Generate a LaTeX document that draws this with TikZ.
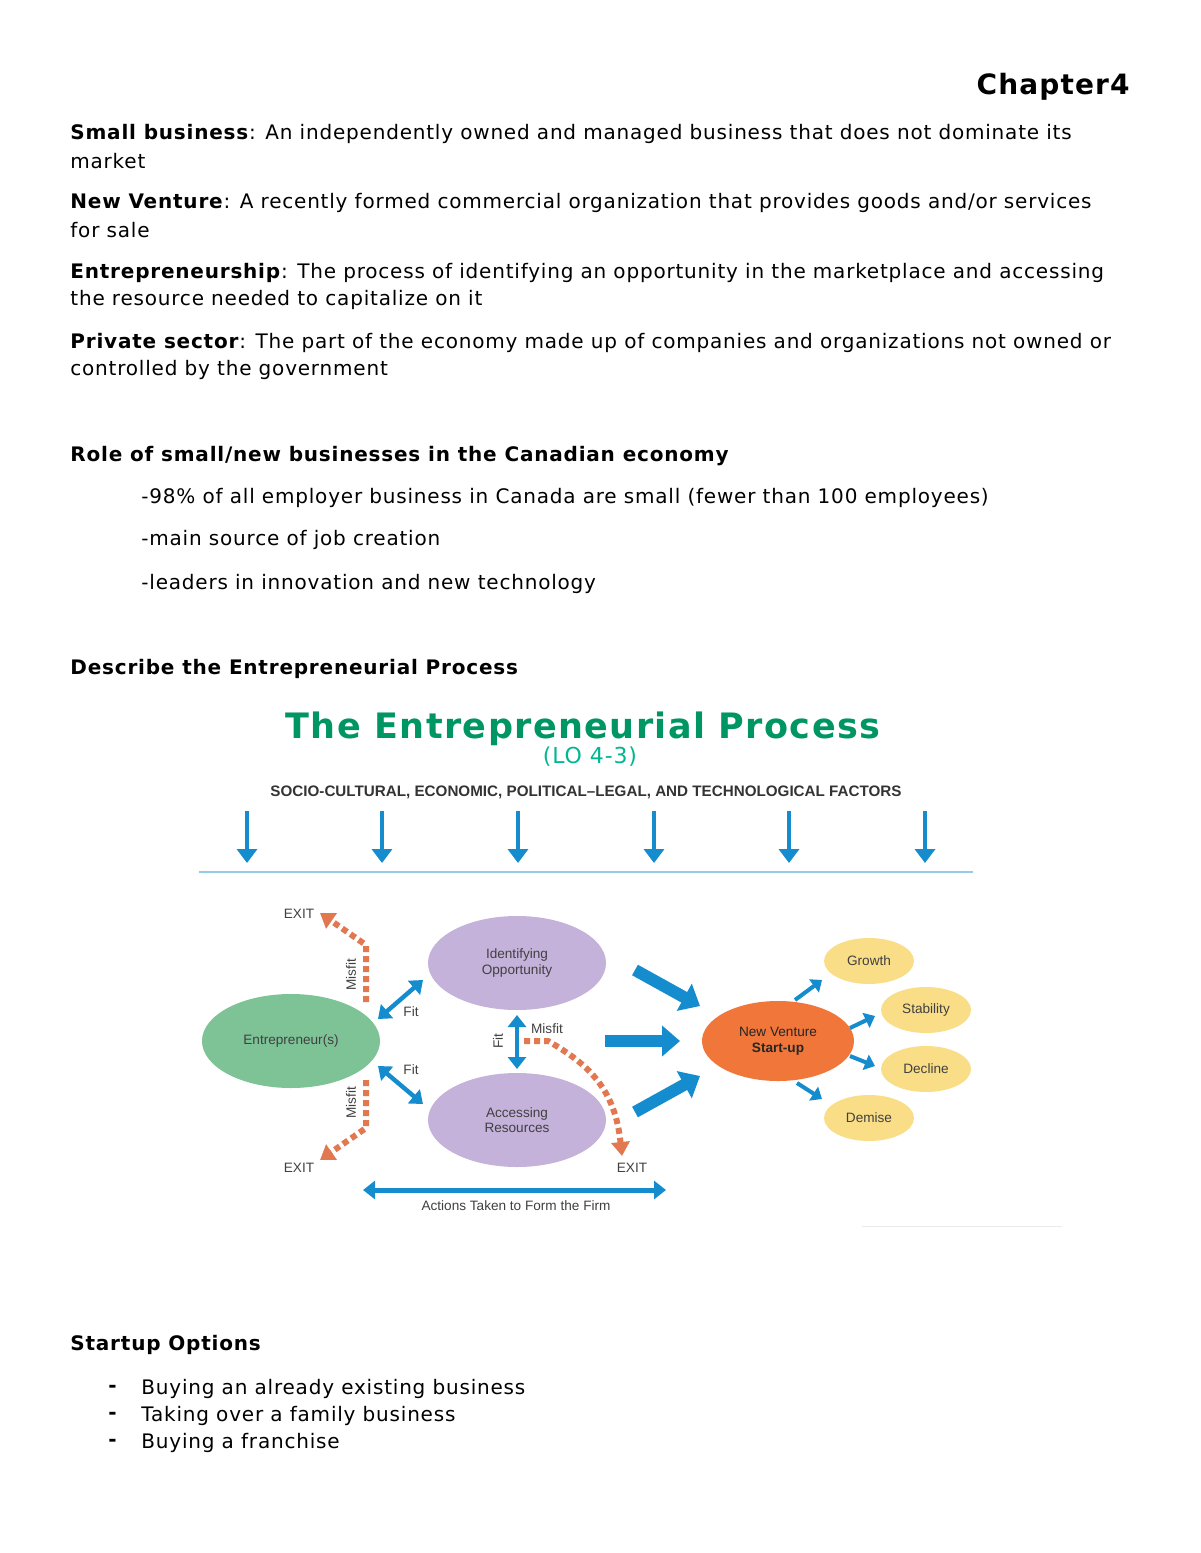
\documentclass[tikz,border=0pt]{standalone}
\usepackage{fontspec}
\setmainfont[LetterSpace=4]{DejaVu Sans}
\newfontfamily\dsans{Liberation Sans}
\usetikzlibrary{arrows.meta,shapes.geometric}
\definecolor{pblue}{RGB}{20,140,205}
\definecolor{pgreen}{RGB}{0,150,100}
\definecolor{egreen}{RGB}{125,195,150}
\definecolor{lpurp}{RGB}{197,178,218}
\definecolor{porange}{RGB}{240,118,58}
\definecolor{pyellow}{RGB}{250,222,135}
\definecolor{dorange}{RGB}{225,120,80}
\begin{document}
\begin{tikzpicture}[x=0.5pt,y=-0.5pt,
  txt/.style={anchor=west,font=\fontsize{10}{12}\selectfont,inner sep=0pt},
  ell/.style={ellipse,inner sep=0pt,font=\dsans\fontsize{6.8}{7.8}\selectfont,align=center,text=black!75},
  down/.style={pblue,line width=2.2pt,-{Triangle[length=7pt,width=10pt]}},
  big/.style={pblue,line width=6pt,-{Triangle[length=9pt,width=15pt]}},
  sm/.style={pblue,line width=2pt,-{Triangle[length=5pt,width=8pt]}},
  fit/.style={pblue,line width=2.2pt,{Triangle[length=6pt,width=9pt]}-{Triangle[length=6pt,width=9pt]}},
  mis/.style={dorange,line width=3pt,dash pattern=on 3pt off 2pt,-{Triangle[length=7pt,width=9pt]}},
  lab/.style={font=\dsans\fontsize{6.8}{7.8}\selectfont,text=black!75,inner sep=1pt}]
\useasboundingbox (0,0) rectangle (1200,1553);
\fill[white] (0,0) rectangle (1200,1553);
\node[anchor=east,font=\fontsize{14}{16}\selectfont\bfseries,inner sep=0pt] (ch) at (1130,87) {Chapter4};
\node[txt] (d1) at (70,134) {\textbf{Small business}: An independently owned and managed business that does not dominate its};
\node[txt] (d1b) at (70,161) {market};
\node[txt] (d2) at (70,203) {\textbf{New Venture}: A recently formed commercial organization that provides goods and/or services};
\node[txt] (d2b) at (70,230) {for sale};
\node[txt] (d3) at (70,273) {\textbf{Entrepreneurship}: The process of identifying an opportunity in the marketplace and accessing};
\node[txt] (d3b) at (70,300) {the resource needed to capitalize on it};
\node[txt] (d4) at (70,343) {\textbf{Private sector}: The part of the economy made up of companies and organizations not owned or};
\node[txt] (d4b) at (70,370) {controlled by the government};
\node[txt,font=\fontsize{10}{12}\selectfont\bfseries] (h1) at (70,456) {Role of small/new businesses in the Canadian economy};
\node[txt] (b1) at (141,498) {-98\% of all employer business in Canada are small (fewer than 100 employees)};
\node[txt] (b2) at (141,540) {-main source of job creation};
\node[txt] (b3) at (141,584) {-leaders in innovation and new technology};
\node[txt,font=\fontsize{10}{12}\selectfont\bfseries] (h2) at (70,669) {Describe the Entrepreneurial Process};
\node[txt,font=\fontsize{10}{12}\selectfont\bfseries] (h3) at (70,1345) {Startup Options};
\foreach \y/\t [count=\i] in {1389/Buying an already existing business,1416/Taking over a family business,1443/Buying a franchise}{
  \node[txt] (dash\i) at (108,\y) {\textbf{-}};
  \node[txt] (s\i) at (141,\y) {\t};
}
% diagram
\node[font=\fontsize{17.5}{19}\selectfont\bfseries,text=pgreen,inner sep=0pt] (title) at (583,729) {The Entrepreneurial Process};
\node[font=\fontsize{11}{13}\selectfont,text=pgreen!70!cyan,inner sep=0pt] (lo) at (590,757) {(LO 4-3)};
\node[font=\dsans\fontsize{7.6}{8}\selectfont\bfseries,text=black!80,inner sep=0pt] (soc) at (586,792) {SOCIO-CULTURAL, ECONOMIC, POLITICAL–LEGAL, AND TECHNOLOGICAL FACTORS};
\foreach \x [count=\i] in {247,382,518,654,789,925}{
  \coordinate (ta\i) at (\x,811); \coordinate (tb\i) at (\x,863);
  \draw[down] (ta\i) -- (tb\i);
}
\coordinate (l1) at (199,872); \coordinate (l2) at (973,872);
\draw[pblue!45,line width=0.8pt] (l1) -- (l2);
\node[ell,fill=egreen,minimum width=89pt,minimum height=47pt] (ent) at (291,1041) {Entrepreneur(s)};
\node[ell,fill=lpurp,minimum width=89pt,minimum height=47pt] (idf) at (517,963) {Identifying\\Opportunity};
\node[ell,fill=lpurp,minimum width=89pt,minimum height=47pt] (acc) at (517,1120) {Accessing\\Resources};
\node[ell,fill=porange,minimum width=76pt,minimum height=40pt,text=black!85] (nv) at (778,1041) {New Venture\\\textbf{Start-up}};
\node[ell,fill=pyellow,minimum width=45pt,minimum height=23pt] (gr) at (869,961) {Growth};
\node[ell,fill=pyellow,minimum width=45pt,minimum height=23pt] (st) at (926,1010) {Stability};
\node[ell,fill=pyellow,minimum width=45pt,minimum height=23pt] (de) at (926,1069) {Decline};
\node[ell,fill=pyellow,minimum width=45pt,minimum height=23pt] (dm) at (869,1118) {Demise};
\coordinate (g1) at (635,970); \coordinate (g2) at (700,1006);
\coordinate (g3) at (605,1041); \coordinate (g4) at (680,1041);
\coordinate (g5) at (635,1112); \coordinate (g6) at (700,1076);
\draw[big] (g1) -- (g2); \draw[big] (g3) -- (g4); \draw[big] (g5) -- (g6);
\coordinate (o1) at (795,1000); \coordinate (o2) at (822,980);
\coordinate (o3) at (850,1028); \coordinate (o4) at (875,1016);
\coordinate (o5) at (850,1056); \coordinate (o6) at (875,1066);
\coordinate (o7) at (797,1083); \coordinate (o8) at (822,1099);
\draw[sm] (o1) -- (o2); \draw[sm] (o3) -- (o4); \draw[sm] (o5) -- (o6); \draw[sm] (o7) -- (o8);
\coordinate (p1) at (378,1019); \coordinate (p2) at (423,980);
\coordinate (p3) at (378,1066); \coordinate (p4) at (423,1104);
\coordinate (p5) at (517,1015); \coordinate (p6) at (517,1069);
\draw[fit] (p1) -- (p2);
\draw[fit] (p3) -- (p4);
\draw[fit] (p5) -- (p6);
\node[lab] (f1) at (411,1012) {Fit};
\node[lab] (f2) at (411,1070) {Fit};
\node[lab,rotate=90] (f3) at (498,1041) {Fit};
\coordinate (m1) at (366,1002); \coordinate (m2) at (366,945); \coordinate (m3) at (320,913);
\draw[mis] (m1) -- (m2) -- (m3);
\coordinate (m4) at (366,1080); \coordinate (m5) at (366,1128); \coordinate (m6) at (320,1160);
\draw[mis] (m4) -- (m5) -- (m6);
\coordinate (m7) at (524,1041); \coordinate (m8) at (548,1041); \coordinate (m9) at (622,1156);
\draw[mis] (m7) -- (m8) .. controls (590,1065) and (615,1090) .. (m9);
\node[lab] (e1) at (299,914) {EXIT};
\node[lab] (e2) at (299,1168) {EXIT};
\node[lab] (e3) at (632,1168) {EXIT};
\node[lab,rotate=90] (mf1) at (351,975) {Misfit};
\node[lab,rotate=90] (mf2) at (351,1103) {Misfit};
\node[lab] (mf3) at (547,1029) {Misfit};
\coordinate (a1) at (363,1190); \coordinate (a2) at (666,1190);
\draw[fit,line width=2.5pt] (a1) -- (a2);
\node[lab] (act) at (516,1206) {Actions Taken to Form the Firm};
\coordinate (fl1) at (862,1226); \coordinate (fl2) at (1062,1226);
\draw[black!8,line width=0.5pt] (fl1) -- (fl2);
\end{tikzpicture}
\end{document}
